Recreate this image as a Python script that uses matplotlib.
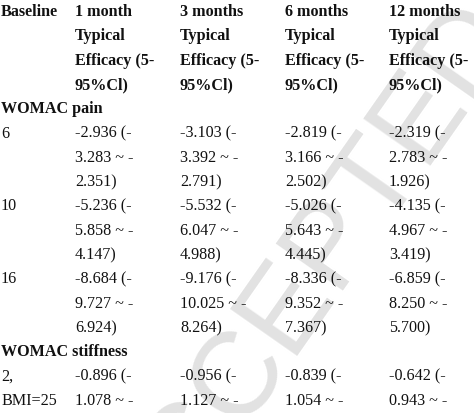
import matplotlib.pyplot as plt

header = ["Baseline", "1 month", "3 months", "6 months", "12 months"]
header_sub = ["Typical", "Efficacy (5-", "95%Cl)"]
pain_baseline = ["6", "10", "16"]
pain_values = [
    [(-2.936, 3.283, 2.351), (-3.103, 3.392, 2.791), (-2.819, 3.166, 2.502), (-2.319, 2.783, 1.926)],
    [(-5.236, 5.858, 4.147), (-5.532, 6.047, 4.988), (-5.026, 5.643, 4.445), (-4.135, 4.967, 3.419)],
    [(-8.684, 9.727, 6.924), (-9.176, 10.025, 8.264), (-8.336, 9.352, 7.367), (-6.859, 8.250, 5.700)],
]
stiff_baseline = ["2,", "BMI=25"]
stiff_values = [(-0.896, 1.078), (-0.956, 1.127), (-0.839, 1.054), (-0.642, 0.943)]

W, H = 474, 413
fig = plt.figure(figsize=(W / 100, H / 100), dpi=100)
ax = fig.add_axes([0, 0, 1, 1])
ax.set_xlim(0, W)
ax.set_ylim(H, 0)
ax.axis("off")

# watermark
ax.text(310, 285, "ACCEPTED", fontsize=86, color="#e2e2e2", rotation=55,
        ha="center", va="center", family="Liberation Sans", zorder=0)

col_x = [1, 75, 180, 285, 389]
line_h = 24.3
y0 = 12
font = dict(family="Liberation Serif", fontsize=11.6, va="center", ha="left", color="#111111")


def put(col, line, s, bold=False):
    ax.text(col_x[col], y0 + line * line_h, s, fontweight="bold" if bold else "normal", **font)


for i, h in enumerate(header):
    put(i, 0, h, bold=True)
    if i > 0:
        for j, s in enumerate(header_sub):
            put(i, j + 1, s, bold=True)

put(0, 4, "WOMAC pain", bold=True)
line = 5
for b, row in zip(pain_baseline, pain_values):
    put(0, line, b)
    for c, (m, lo, hi) in enumerate(row):
        put(c + 1, line, f"{m:.3f} (-")
        put(c + 1, line + 1, f"{lo:.3f} ~ -")
        put(c + 1, line + 2, f"{hi:.3f})")
    line += 3

put(0, line, "WOMAC stiffness", bold=True)
line += 1
put(0, line, stiff_baseline[0])
put(0, line + 1, stiff_baseline[1])
for c, (m, lo) in enumerate(stiff_values):
    put(c + 1, line, f"{m:.3f} (-")
    put(c + 1, line + 1, f"{lo:.3f} ~ -")

fig.savefig("out.png", dpi=100)
